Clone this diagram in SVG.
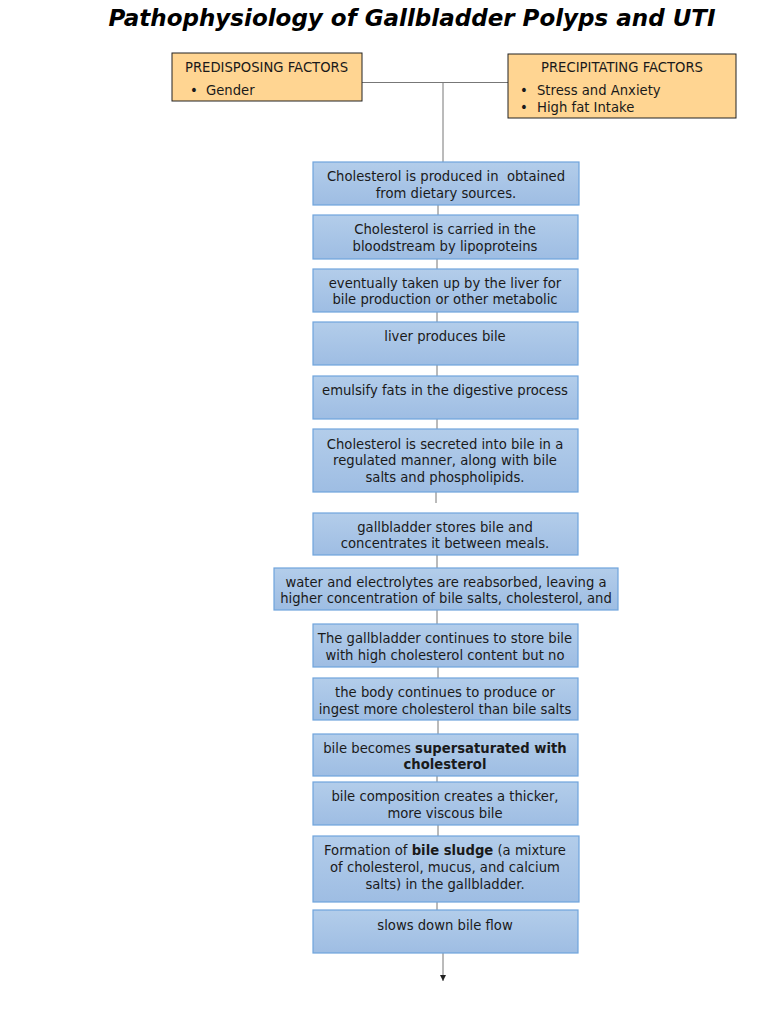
<svg xmlns="http://www.w3.org/2000/svg" width="768" height="1024" viewBox="0 0 768 1024">
<defs>
<linearGradient id="bg" x1="0" y1="0" x2="0" y2="1">
<stop offset="0" stop-color="#b3cdea"/>
<stop offset="1" stop-color="#9ebde3"/>
</linearGradient>
<marker id="arr" markerWidth="8" markerHeight="8" refX="6" refY="3" orient="auto" markerUnits="userSpaceOnUse">
<path d="M0,0 L6,3 L0,6 Z" fill="#222"/>
</marker>
<style>
text{font-family:"DejaVu Sans",Verdana,sans-serif;font-size:13.2px;fill:#1a1a1a}
.t{text-anchor:middle}
.b{font-weight:bold}
.box{fill:url(#bg);stroke:#6fa4dc;stroke-width:1.2}
.fac{fill:#ffd592;stroke:#222;stroke-width:1}
.ln{stroke:#777;stroke-width:1;fill:none}
.title{font-size:23px;font-weight:bold;font-style:italic;fill:#000}
</style>
</defs>
<rect width="768" height="1024" fill="#fff"/>
<text class="title t" x="412" y="26">Pathophysiology of Gallbladder Polyps and UTI</text>

<g id="connectors">
<path class="ln" d="M362,82.5 H508"/>
<path class="ln" d="M443,83 V162"/>
<path class="ln" d="M438,205 V215 M437,259 V269 M437,312 V322 M437,365 V376 M437,419 V429 M436,492 V503 M437,555 V568 M437,610 V624 M438,667 V678 M438,720 V734 M437,776 V782 M438,825 V836 M437,902 V910"/>
<path class="ln" d="M443,953 V981" stroke="#444" marker-end="url(#arr)"/>
</g>

<g id="predisposing">
<rect class="fac" x="172" y="53" width="190" height="48"/>
<text x="185" y="72">PREDISPOSING FACTORS</text>
<text x="190" y="95">•</text>
<text x="206" y="95">Gender</text>
</g>
<g id="precipitating">
<rect class="fac" x="508" y="54" width="228" height="64"/>
<text class="t" x="622" y="72">PRECIPITATING FACTORS</text>
<text x="520" y="95">•</text>
<text x="537" y="95">Stress and Anxiety</text>
<text x="520" y="112">•</text>
<text x="537" y="112">High fat Intake</text>
</g>

<g id="n1"><rect class="box" x="313" y="162" width="266" height="43"/>
<text class="t" x="446" y="181">Cholesterol is produced in&#160; obtained</text>
<text class="t" x="446" y="198">from dietary sources.</text></g>
<g id="n2"><rect class="box" x="313" y="215" width="265" height="44"/>
<text class="t" x="445" y="234">Cholesterol is carried in the</text>
<text class="t" x="445" y="251">bloodstream by lipoproteins</text></g>
<g id="n3"><rect class="box" x="313" y="269" width="265" height="43"/>
<text class="t" x="445" y="288">eventually taken up by the liver for</text>
<text class="t" x="445" y="304">bile production or other metabolic</text></g>
<g id="n4"><rect class="box" x="313" y="322" width="265" height="43"/>
<text class="t" x="445" y="341">liver produces bile</text></g>
<g id="n5"><rect class="box" x="313" y="376" width="265" height="43"/>
<text class="t" x="445" y="395">emulsify fats in the digestive process</text></g>
<g id="n6"><rect class="box" x="313" y="429" width="265" height="63"/>
<text class="t" x="445" y="449">Cholesterol is secreted into bile in a</text>
<text class="t" x="445" y="465">regulated manner, along with bile</text>
<text class="t" x="445" y="482">salts and phospholipids.</text></g>
<g id="n7"><rect class="box" x="313" y="513" width="265" height="42"/>
<text class="t" x="445" y="532">gallbladder stores bile and</text>
<text class="t" x="445" y="548">concentrates it between meals.</text></g>
<g id="n8"><rect class="box" x="274" y="568" width="344" height="42"/>
<text class="t" x="446" y="587">water and electrolytes are reabsorbed, leaving a</text>
<text class="t" x="446" y="603">higher concentration of bile salts, cholesterol, and</text></g>
<g id="n9"><rect class="box" x="313" y="624" width="265" height="43"/>
<text class="t" x="445" y="643">The gallbladder continues to store bile</text>
<text class="t" x="445" y="660">with high cholesterol content but no</text></g>
<g id="n10"><rect class="box" x="313" y="678" width="265" height="42"/>
<text class="t" x="445" y="697">the body continues to produce or</text>
<text class="t" x="445" y="714">ingest more cholesterol than bile salts</text></g>
<g id="n11"><rect class="box" x="313" y="734" width="265" height="42"/>
<text class="t" x="445" y="753">bile becomes <tspan class="b">supersaturated with</tspan></text>
<text class="t b" x="445" y="769">cholesterol</text></g>
<g id="n12"><rect class="box" x="313" y="782" width="265" height="43"/>
<text class="t" x="445" y="801">bile composition creates a thicker,</text>
<text class="t" x="445" y="818">more viscous bile</text></g>
<g id="n13"><rect class="box" x="313" y="836" width="266" height="66"/>
<text class="t" x="445" y="855">Formation of <tspan class="b">bile sludge</tspan> (a mixture</text>
<text class="t" x="445" y="872">of cholesterol, mucus, and calcium</text>
<text class="t" x="445" y="889">salts) in the gallbladder.</text></g>
<g id="n14"><rect class="box" x="313" y="910" width="265" height="43"/>
<text class="t" x="445" y="930">slows down bile flow</text></g>
</svg>
